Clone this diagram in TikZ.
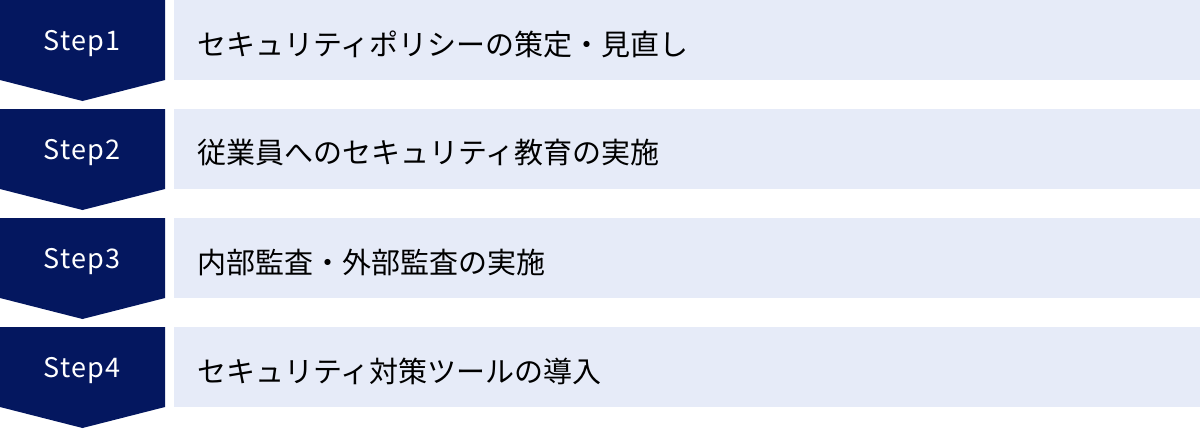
\documentclass[tikz,border=0pt]{standalone}
\usepackage{fontspec}
\setmainfont{Noto Sans CJK JP}
\newfontfamily\jpfont{Noto Sans CJK JP}
\definecolor{navy}{HTML}{04175F}
\definecolor{pale}{HTML}{E6EBF8}
\tikzset{
  stepshape/.style={fill=navy, draw=none},
  itembox/.style={fill=pale, draw=none},
  steplabel/.style={text=white, font=\jpfont\fontsize{27}{32}\selectfont, inner sep=0pt, anchor=center},
  itemlabel/.style={text=black, font=\jpfont\fontsize{29}{34}\selectfont, inner sep=0pt, anchor=west},
}
\begin{document}
\begin{tikzpicture}[x=1pt,y=1pt]
\useasboundingbox (0,0) rectangle (1200,-429);
\foreach \i/\txt in {0/{セキュリティポリシーの策定・見直し},1/{従業員へのセキュリティ教育の実施},2/{内部監査・外部監査の実施},3/{セキュリティ対策ツールの導入}}{
  \pgfmathsetmacro{\t}{-109*\i}
  \fill[stepshape] (0,\t) -- (165,\t) -- (165,\t-80) -- (82.5,\t-101) -- (0,\t-80) -- cycle;
  \fill[itembox] (174,\t) rectangle (1200,\t-80);
  \pgfmathtruncatemacro{\n}{\i+1}
  \node[steplabel] (s\n) at (82,\t-43.5) {\addfontfeatures{LetterSpace=5}Step\n};
  \node[itemlabel] (t\n) at (197,\t-44) {\txt};
}
\end{tikzpicture}
\end{document}
